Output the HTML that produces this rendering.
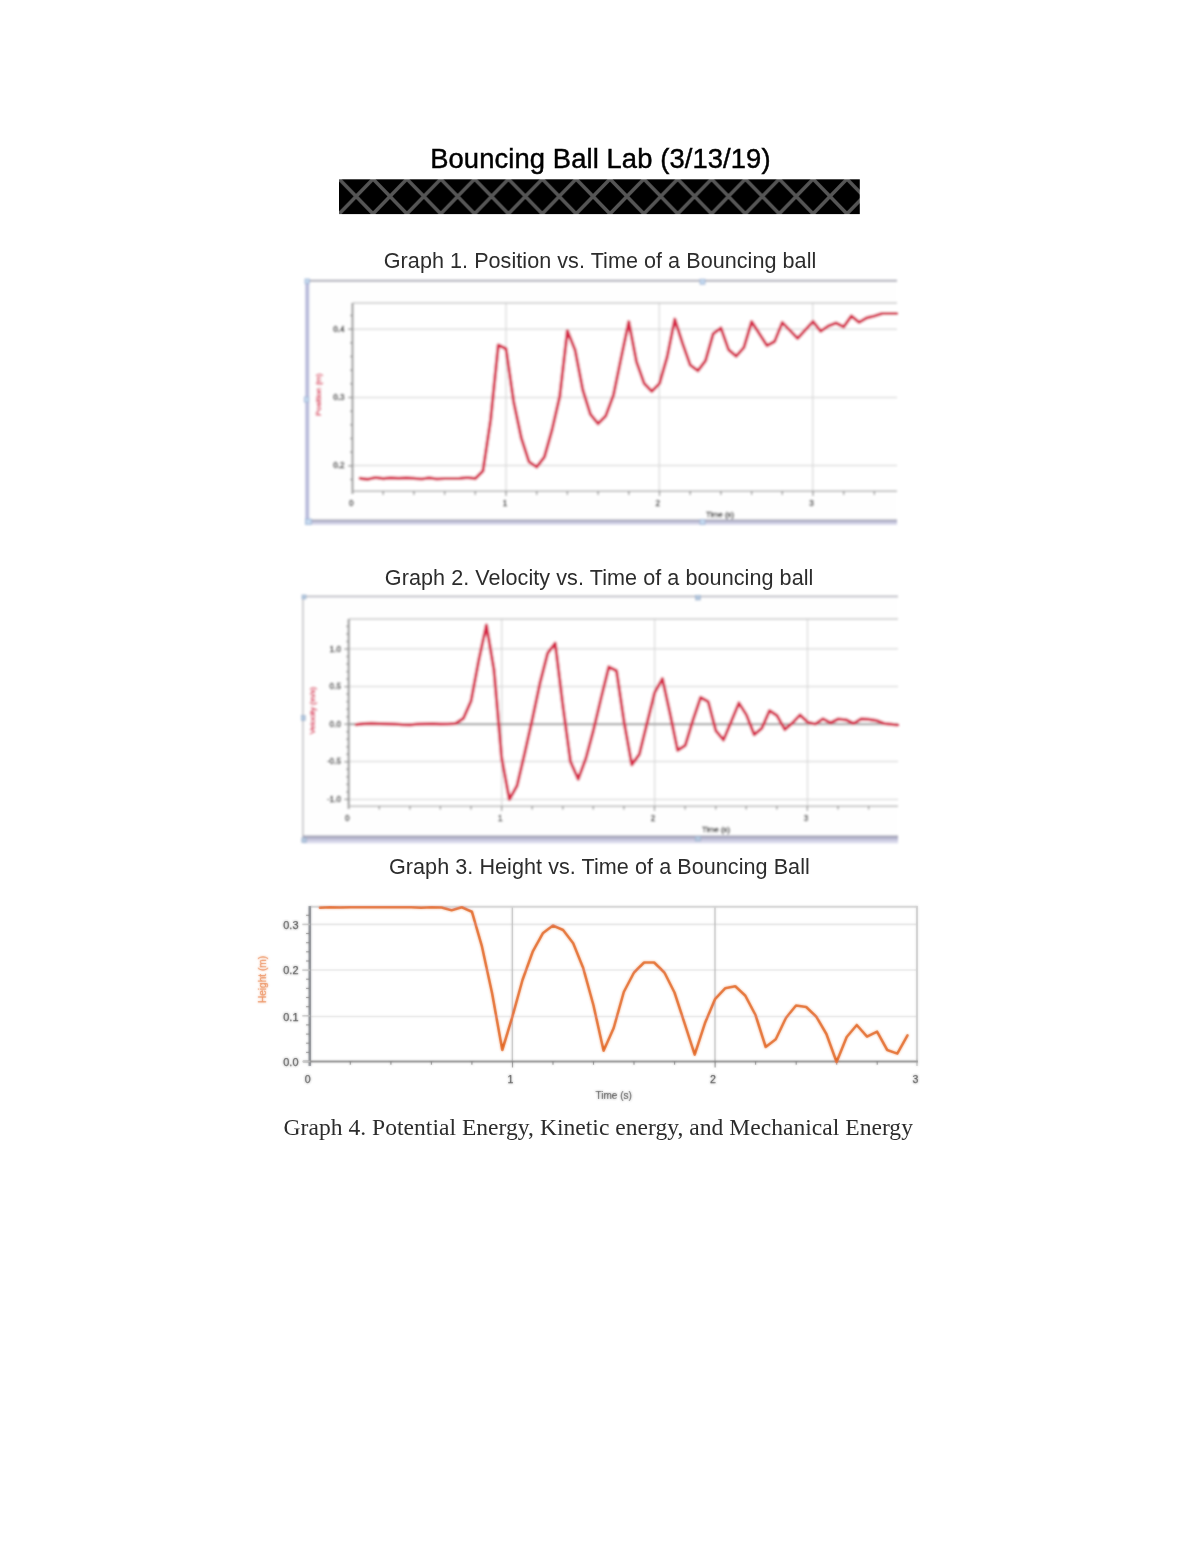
<!DOCTYPE html>
<html><head><meta charset="utf-8"><title>Bouncing Ball Lab</title>
<style>
html,body{margin:0;padding:0;background:#fff;}
body{width:1200px;height:1553px;position:relative;overflow:hidden;font-family:"Liberation Sans",sans-serif;color:#000;}
.t{position:absolute;white-space:nowrap;line-height:1;}
svg{position:absolute;left:0;top:0;}
svg text{font-family:"Liberation Sans",sans-serif;}
</style></head><body>
<div class="t" id="title" style="left:430.2px;top:144.6px;font-size:27.35px;letter-spacing:0.11px;-webkit-text-stroke:0.45px #000;">Bouncing Ball Lab (3/13/19)</div>
<div class="t" id="c1" style="left:383.8px;top:250px;font-size:21.57px;color:#2c2c2c;letter-spacing:0.05px;">Graph 1. Position vs. Time of a Bouncing ball</div>
<div class="t" id="c2" style="left:384.8px;top:566.8px;font-size:21.57px;color:#2c2c2c;letter-spacing:0.07px;">Graph 2. Velocity vs. Time of a bouncing ball</div>
<div class="t" id="c3" style="left:389px;top:855.8px;font-size:21.57px;color:#2c2c2c;letter-spacing:0.06px;">Graph 3. Height vs. Time of a Bouncing Ball</div>
<div class="t" id="c4" style="left:283.6px;top:1116px;font-size:23.53px;font-family:'Liberation Serif',serif;color:#2c2c2c;letter-spacing:0.035px;">Graph 4. Potential Energy, Kinetic energy, and Mechanical Energy</div>
<svg width="1200" height="1553" viewBox="0 0 1200 1553">
<defs>
<pattern id="dia" x="339.2" y="179" width="33.85" height="35" patternUnits="userSpaceOnUse">
<rect width="34" height="35" fill="#000"/>
<path d="M-1,-1.03 L34.85,35.88 M34.85,-1.03 L-1,35.88" stroke="#555" stroke-width="3.5" fill="none"/>
</pattern>
<filter id="b1" x="-5%" y="-5%" width="110%" height="110%"><feGaussianBlur stdDeviation="0.9"/></filter>
<filter id="b2" x="-5%" y="-5%" width="110%" height="110%"><feGaussianBlur stdDeviation="0.9" result="bl"/><feComposite in="bl" in2="SourceGraphic" operator="arithmetic" k1="0" k2="0.55" k3="0.45" k4="0"/></filter>
<linearGradient id="gb" x1="0" y1="0" x2="0" y2="1"><stop offset="0" stop-color="#9696aa"/><stop offset="0.5" stop-color="#c4c4dc"/><stop offset="1" stop-color="#e6e6f4"/></linearGradient>
</defs>
<rect x="339" y="179.3" width="520.8" height="34.8" fill="url(#dia)"/>
<g filter="url(#b1)">
<rect x="306" y="281" width="591" height="243" fill="#fefefe"/>
<rect x="305.3" y="281" width="4" height="243" fill="#babcdc"/>
<rect x="306" y="279.8" width="591" height="2" fill="#adadb8"/>
<rect x="306" y="519.5" width="591" height="5.5" fill="url(#gb)"/>
<rect x="352.5" y="303" width="545" height="188.3" fill="#fff"/>
<line x1="352.5" x2="897" y1="329.2" y2="329.2" stroke="#dedede" stroke-width="1.5"/>
<line x1="352.5" x2="897" y1="397.5" y2="397.5" stroke="#dedede" stroke-width="1.5"/>
<line x1="352.5" x2="897" y1="465.5" y2="465.5" stroke="#dedede" stroke-width="1.5"/>
<line x1="506" x2="506" y1="303" y2="491" stroke="#d8d8d8" stroke-width="1.2"/>
<line x1="659.3" x2="659.3" y1="303" y2="491" stroke="#d8d8d8" stroke-width="1.2"/>
<line x1="812.7" x2="812.7" y1="303" y2="491" stroke="#d8d8d8" stroke-width="1.2"/>
<line x1="352.5" x2="897" y1="303" y2="303" stroke="#c8c8c8" stroke-width="1.6"/>
<line x1="352.5" x2="352.5" y1="303" y2="494" stroke="#969696" stroke-width="2"/>
<line x1="352.5" x2="897" y1="491.3" y2="491.3" stroke="#b0b0b0" stroke-width="1.6"/>
<line x1="383.2" x2="383.2" y1="491" y2="495" stroke="#888" stroke-width="1.2"/>
<line x1="413.9" x2="413.9" y1="491" y2="495" stroke="#888" stroke-width="1.2"/>
<line x1="444.6" x2="444.6" y1="491" y2="495" stroke="#888" stroke-width="1.2"/>
<line x1="475.3" x2="475.3" y1="491" y2="495" stroke="#888" stroke-width="1.2"/>
<line x1="506.0" x2="506.0" y1="491" y2="496" stroke="#888" stroke-width="1.2"/>
<line x1="536.7" x2="536.7" y1="491" y2="495" stroke="#888" stroke-width="1.2"/>
<line x1="567.4" x2="567.4" y1="491" y2="495" stroke="#888" stroke-width="1.2"/>
<line x1="598.1" x2="598.1" y1="491" y2="495" stroke="#888" stroke-width="1.2"/>
<line x1="628.8" x2="628.8" y1="491" y2="495" stroke="#888" stroke-width="1.2"/>
<line x1="659.5" x2="659.5" y1="491" y2="496" stroke="#888" stroke-width="1.2"/>
<line x1="690.2" x2="690.2" y1="491" y2="495" stroke="#888" stroke-width="1.2"/>
<line x1="720.9" x2="720.9" y1="491" y2="495" stroke="#888" stroke-width="1.2"/>
<line x1="751.6" x2="751.6" y1="491" y2="495" stroke="#888" stroke-width="1.2"/>
<line x1="782.3" x2="782.3" y1="491" y2="495" stroke="#888" stroke-width="1.2"/>
<line x1="813.0" x2="813.0" y1="491" y2="496" stroke="#888" stroke-width="1.2"/>
<line x1="843.7" x2="843.7" y1="491" y2="495" stroke="#888" stroke-width="1.2"/>
<line x1="874.4" x2="874.4" y1="491" y2="495" stroke="#888" stroke-width="1.2"/>
<line x1="350.0" x2="352.5" y1="315.5" y2="315.5" stroke="#888" stroke-width="1.2"/>
<line x1="348.0" x2="352.5" y1="329.2" y2="329.2" stroke="#888" stroke-width="1.2"/>
<line x1="350.0" x2="352.5" y1="342.9" y2="342.9" stroke="#888" stroke-width="1.2"/>
<line x1="350.0" x2="352.5" y1="356.5" y2="356.5" stroke="#888" stroke-width="1.2"/>
<line x1="350.0" x2="352.5" y1="370.2" y2="370.2" stroke="#888" stroke-width="1.2"/>
<line x1="350.0" x2="352.5" y1="383.8" y2="383.8" stroke="#888" stroke-width="1.2"/>
<line x1="348.0" x2="352.5" y1="397.5" y2="397.5" stroke="#888" stroke-width="1.2"/>
<line x1="350.0" x2="352.5" y1="411.2" y2="411.2" stroke="#888" stroke-width="1.2"/>
<line x1="350.0" x2="352.5" y1="424.8" y2="424.8" stroke="#888" stroke-width="1.2"/>
<line x1="350.0" x2="352.5" y1="438.5" y2="438.5" stroke="#888" stroke-width="1.2"/>
<line x1="350.0" x2="352.5" y1="452.1" y2="452.1" stroke="#888" stroke-width="1.2"/>
<line x1="348.0" x2="352.5" y1="465.8" y2="465.8" stroke="#888" stroke-width="1.2"/>
<line x1="350.0" x2="352.5" y1="479.5" y2="479.5" stroke="#888" stroke-width="1.2"/>
<text x="344.6" y="332.09999999999997" font-size="8.2" text-anchor="end" fill="#2a2a2a" stroke="#2a2a2a" stroke-width="0.35">0.4</text>
<text x="344.6" y="400.4" font-size="8.2" text-anchor="end" fill="#2a2a2a" stroke="#2a2a2a" stroke-width="0.35">0.3</text>
<text x="344.6" y="468.4" font-size="8.2" text-anchor="end" fill="#2a2a2a" stroke="#2a2a2a" stroke-width="0.35">0.2</text>
<text x="351.3" y="506" font-size="8.2" text-anchor="middle" fill="#2a2a2a" stroke="#2a2a2a" stroke-width="0.35">0</text>
<text x="505" y="506" font-size="8.2" text-anchor="middle" fill="#2a2a2a" stroke="#2a2a2a" stroke-width="0.35">1</text>
<text x="657.8" y="506" font-size="8.2" text-anchor="middle" fill="#2a2a2a" stroke="#2a2a2a" stroke-width="0.35">2</text>
<text x="811.5" y="506" font-size="8.2" text-anchor="middle" fill="#2a2a2a" stroke="#2a2a2a" stroke-width="0.35">3</text>
<text x="720" y="516.5" font-size="7.7" text-anchor="middle" fill="#2a2a2a" stroke="#2a2a2a" stroke-width="0.3">Time (s)</text>
<text transform="translate(321,394.7) rotate(-90)" font-size="8" text-anchor="middle" fill="#d93455" stroke="#d93455" stroke-width="0.3">Position (m)</text>
<g fill="#c4d8ee" stroke="#9db4d4" stroke-width="0.8"><rect x="305" y="279" width="4.5" height="4.5"/><rect x="700" y="279.3" width="5" height="5"/><rect x="305.5" y="519" width="6" height="5.5"/><rect x="700" y="519.5" width="5" height="5"/><rect x="304.3" y="397" width="4.5" height="5"/></g>
<path d="M360.2,478.3 L367.9,479.3 L375.5,477.5 L383.2,478.7 L390.9,477.8 L398.6,478.3 L406.2,477.8 L413.9,478.3 L421.6,479.0 L429.2,477.8 L436.9,479.0 L444.6,478.5 L452.3,478.5 L459.9,478.3 L467.6,477.5 L475.3,478.7 L483.0,470.8 L490.6,420.0 L498.3,345.0 L506.0,348.7 L513.7,402.0 L521.4,438.3 L529.0,461.7 L536.7,467.0 L544.4,457.0 L552.0,430.0 L559.7,396.7 L567.4,330.8 L575.1,350.0 L582.8,390.0 L590.4,414.2 L598.1,423.7 L605.8,415.8 L613.5,395.0 L621.1,358.0 L628.8,321.7 L636.5,361.7 L644.1,383.3 L651.8,391.3 L659.5,383.5 L667.2,356.7 L674.8,319.2 L682.5,343.3 L690.2,365.0 L697.9,370.8 L705.5,360.8 L713.2,333.7 L720.9,328.0 L728.6,349.7 L736.2,356.3 L743.9,347.5 L751.6,321.7 L759.3,333.7 L767.0,345.7 L774.6,341.5 L782.3,322.5 L790.0,330.5 L797.6,338.4 L805.3,330.0 L813.0,321.5 L820.7,331.3 L828.3,326.0 L836.0,323.0 L843.7,326.9 L851.4,316.0 L859.0,322.3 L866.7,317.9 L874.4,316.0 L882.1,313.5 L889.8,313.5 L896.5,313.5" fill="none" stroke="#d6294a" stroke-width="3.2" stroke-linejoin="round" stroke-linecap="round"/>
</g>
<g filter="url(#b1)">
<rect x="303" y="596" width="595" height="246" fill="#fefefe"/>
<rect x="302.2" y="596" width="1.6" height="246" fill="#c4c4c8"/>
<rect x="303" y="595.7" width="595" height="1.6" fill="#b4b4bc"/>
<rect x="303" y="835.5" width="595" height="8" fill="url(#gb)"/>
<rect x="348.7" y="619" width="549.3" height="187" fill="#fff"/>
<line x1="348.7" x2="898" y1="648.7" y2="648.7" stroke="#dedede" stroke-width="1.5"/>
<line x1="348.7" x2="898" y1="686.5" y2="686.5" stroke="#dedede" stroke-width="1.5"/>
<line x1="348.7" x2="898" y1="761.4" y2="761.4" stroke="#dedede" stroke-width="1.5"/>
<line x1="348.7" x2="898" y1="799.4" y2="799.4" stroke="#dedede" stroke-width="1.5"/>
<line x1="501.7" x2="501.7" y1="619" y2="806" stroke="#d8d8d8" stroke-width="1.2"/>
<line x1="654.6" x2="654.6" y1="619" y2="806" stroke="#d8d8d8" stroke-width="1.2"/>
<line x1="807.5" x2="807.5" y1="619" y2="806" stroke="#d8d8d8" stroke-width="1.2"/>
<line x1="348.7" x2="898" y1="724.2" y2="724.2" stroke="#a8a8a8" stroke-width="2.2"/>
<line x1="348.7" x2="898" y1="619" y2="619" stroke="#c8c8c8" stroke-width="1.6"/>
<line x1="348.7" x2="348.7" y1="619" y2="809" stroke="#9c9c9c" stroke-width="2.2"/>
<line x1="348.7" x2="898" y1="806.3" y2="806.3" stroke="#b8b8b8" stroke-width="1.6"/>
<line x1="379.3" x2="379.3" y1="806" y2="809.5" stroke="#888" stroke-width="1.2"/>
<line x1="409.9" x2="409.9" y1="806" y2="809.5" stroke="#888" stroke-width="1.2"/>
<line x1="440.4" x2="440.4" y1="806" y2="809.5" stroke="#888" stroke-width="1.2"/>
<line x1="471.0" x2="471.0" y1="806" y2="809.5" stroke="#888" stroke-width="1.2"/>
<line x1="501.6" x2="501.6" y1="806" y2="811" stroke="#888" stroke-width="1.2"/>
<line x1="532.2" x2="532.2" y1="806" y2="809.5" stroke="#888" stroke-width="1.2"/>
<line x1="562.8" x2="562.8" y1="806" y2="809.5" stroke="#888" stroke-width="1.2"/>
<line x1="593.3" x2="593.3" y1="806" y2="809.5" stroke="#888" stroke-width="1.2"/>
<line x1="623.9" x2="623.9" y1="806" y2="809.5" stroke="#888" stroke-width="1.2"/>
<line x1="654.5" x2="654.5" y1="806" y2="811" stroke="#888" stroke-width="1.2"/>
<line x1="685.1" x2="685.1" y1="806" y2="809.5" stroke="#888" stroke-width="1.2"/>
<line x1="715.7" x2="715.7" y1="806" y2="809.5" stroke="#888" stroke-width="1.2"/>
<line x1="746.2" x2="746.2" y1="806" y2="809.5" stroke="#888" stroke-width="1.2"/>
<line x1="776.8" x2="776.8" y1="806" y2="809.5" stroke="#888" stroke-width="1.2"/>
<line x1="807.4" x2="807.4" y1="806" y2="811" stroke="#888" stroke-width="1.2"/>
<line x1="838.0" x2="838.0" y1="806" y2="809.5" stroke="#888" stroke-width="1.2"/>
<line x1="868.6" x2="868.6" y1="806" y2="809.5" stroke="#888" stroke-width="1.2"/>
<line x1="344.2" x2="348.7" y1="799.4" y2="799.4" stroke="#888" stroke-width="1.2"/>
<line x1="346.2" x2="348.7" y1="791.9" y2="791.9" stroke="#888" stroke-width="1.2"/>
<line x1="346.2" x2="348.7" y1="784.4" y2="784.4" stroke="#888" stroke-width="1.2"/>
<line x1="346.2" x2="348.7" y1="776.8" y2="776.8" stroke="#888" stroke-width="1.2"/>
<line x1="346.2" x2="348.7" y1="769.3" y2="769.3" stroke="#888" stroke-width="1.2"/>
<line x1="344.2" x2="348.7" y1="761.8" y2="761.8" stroke="#888" stroke-width="1.2"/>
<line x1="346.2" x2="348.7" y1="754.3" y2="754.3" stroke="#888" stroke-width="1.2"/>
<line x1="346.2" x2="348.7" y1="746.8" y2="746.8" stroke="#888" stroke-width="1.2"/>
<line x1="346.2" x2="348.7" y1="739.2" y2="739.2" stroke="#888" stroke-width="1.2"/>
<line x1="346.2" x2="348.7" y1="731.7" y2="731.7" stroke="#888" stroke-width="1.2"/>
<line x1="344.2" x2="348.7" y1="724.2" y2="724.2" stroke="#888" stroke-width="1.2"/>
<line x1="346.2" x2="348.7" y1="716.7" y2="716.7" stroke="#888" stroke-width="1.2"/>
<line x1="346.2" x2="348.7" y1="709.2" y2="709.2" stroke="#888" stroke-width="1.2"/>
<line x1="346.2" x2="348.7" y1="701.6" y2="701.6" stroke="#888" stroke-width="1.2"/>
<line x1="346.2" x2="348.7" y1="694.1" y2="694.1" stroke="#888" stroke-width="1.2"/>
<line x1="344.2" x2="348.7" y1="686.6" y2="686.6" stroke="#888" stroke-width="1.2"/>
<line x1="346.2" x2="348.7" y1="679.1" y2="679.1" stroke="#888" stroke-width="1.2"/>
<line x1="346.2" x2="348.7" y1="671.6" y2="671.6" stroke="#888" stroke-width="1.2"/>
<line x1="346.2" x2="348.7" y1="664.0" y2="664.0" stroke="#888" stroke-width="1.2"/>
<line x1="346.2" x2="348.7" y1="656.5" y2="656.5" stroke="#888" stroke-width="1.2"/>
<line x1="344.2" x2="348.7" y1="649.0" y2="649.0" stroke="#888" stroke-width="1.2"/>
<line x1="346.2" x2="348.7" y1="641.5" y2="641.5" stroke="#888" stroke-width="1.2"/>
<line x1="346.2" x2="348.7" y1="634.0" y2="634.0" stroke="#888" stroke-width="1.2"/>
<line x1="346.2" x2="348.7" y1="626.4" y2="626.4" stroke="#888" stroke-width="1.2"/>
<text x="341" y="651.6" font-size="8.2" text-anchor="end" fill="#2a2a2a" stroke="#2a2a2a" stroke-width="0.35">1.0</text>
<text x="341" y="689.4" font-size="8.2" text-anchor="end" fill="#2a2a2a" stroke="#2a2a2a" stroke-width="0.35">0.5</text>
<text x="341" y="727.1" font-size="8.2" text-anchor="end" fill="#2a2a2a" stroke="#2a2a2a" stroke-width="0.35">0.0</text>
<text x="341" y="764.3" font-size="8.2" text-anchor="end" fill="#2a2a2a" stroke="#2a2a2a" stroke-width="0.35">-0.5</text>
<text x="341" y="802.3" font-size="8.2" text-anchor="end" fill="#2a2a2a" stroke="#2a2a2a" stroke-width="0.35">-1.0</text>
<text x="347.3" y="821" font-size="8.2" text-anchor="middle" fill="#2a2a2a" stroke="#2a2a2a" stroke-width="0.35">0</text>
<text x="500.3" y="821" font-size="8.2" text-anchor="middle" fill="#2a2a2a" stroke="#2a2a2a" stroke-width="0.35">1</text>
<text x="653" y="821" font-size="8.2" text-anchor="middle" fill="#2a2a2a" stroke="#2a2a2a" stroke-width="0.35">2</text>
<text x="806" y="821" font-size="8.2" text-anchor="middle" fill="#2a2a2a" stroke="#2a2a2a" stroke-width="0.35">3</text>
<text x="716" y="832" font-size="7.7" text-anchor="middle" fill="#2a2a2a" stroke="#2a2a2a" stroke-width="0.3">Time (s)</text>
<text transform="translate(315.3,710.6) rotate(-90)" font-size="7.9" text-anchor="middle" fill="#d93455" stroke="#d93455" stroke-width="0.3">Velocity (m/s)</text>
<g fill="#b4c8de" stroke="#98aecb" stroke-width="0.7"><rect x="302" y="595" width="4" height="4"/><rect x="695.5" y="595.5" width="5" height="4.5"/><rect x="301.8" y="838" width="4.5" height="4.5"/><rect x="695.5" y="836.5" width="5" height="4.5"/><rect x="301.3" y="715.5" width="4" height="5"/></g>
<path d="M356.3,724.7 L364.0,723.6 L371.6,723.4 L379.3,723.6 L386.9,723.8 L394.6,724.2 L402.2,724.6 L409.9,724.8 L417.6,724.2 L425.2,723.8 L432.9,723.6 L440.5,724.2 L448.1,724.0 L455.8,723.3 L463.4,718.3 L471.1,700.8 L478.8,660.0 L486.4,625.0 L494.0,670.0 L501.7,758.3 L509.4,799.5 L517.0,785.8 L524.6,753.7 L532.3,719.3 L540.0,683.0 L547.6,653.3 L555.2,643.3 L562.9,705.7 L570.5,761.7 L578.2,779.2 L585.9,758.3 L593.5,730.0 L601.1,698.0 L608.8,667.0 L616.5,670.8 L624.1,722.0 L631.8,764.7 L639.4,754.2 L647.0,723.3 L654.7,692.5 L662.4,678.7 L670.0,713.3 L677.6,750.3 L685.3,745.3 L693.0,720.0 L700.6,697.5 L708.2,701.7 L715.9,730.8 L723.5,740.0 L731.2,721.7 L738.9,703.0 L746.5,715.0 L754.2,734.7 L761.8,728.3 L769.5,710.7 L777.1,715.7 L784.8,729.5 L792.4,723.0 L800.0,715.0 L807.7,722.2 L815.4,724.0 L823.0,718.8 L830.7,722.8 L838.3,719.0 L846.0,719.8 L853.6,723.5 L861.2,718.8 L868.9,719.4 L876.5,720.6 L884.2,723.5 L891.8,724.4 L897.5,725.0" fill="none" stroke="#d6294a" stroke-width="3.2" stroke-linejoin="round" stroke-linecap="round"/>
</g>
<g filter="url(#b2)">
<line x1="309.8" x2="917" y1="924.4" y2="924.4" stroke="#e4e4e4" stroke-width="1.6"/>
<line x1="309.8" x2="917" y1="970" y2="970" stroke="#e4e4e4" stroke-width="1.6"/>
<line x1="309.8" x2="917" y1="1016.5" y2="1016.5" stroke="#e4e4e4" stroke-width="1.6"/>
<line x1="512.3" x2="512.3" y1="907" y2="1061" stroke="#b0b0b0" stroke-width="1.2"/>
<line x1="715" x2="715" y1="907" y2="1061" stroke="#b0b0b0" stroke-width="1.2"/>
<line x1="309.8" x2="917.5" y1="906.7" y2="906.7" stroke="#cfcfcf" stroke-width="2"/>
<line x1="917" x2="917" y1="906" y2="1066" stroke="#c8c8c8" stroke-width="2"/>
<line x1="309.8" x2="309.8" y1="906" y2="1066" stroke="#80848a" stroke-width="2.6"/>
<line x1="303" x2="918" y1="1061.5" y2="1061.5" stroke="#8a8a8a" stroke-width="2"/>
<line x1="350.3" x2="350.3" y1="1061" y2="1064.8" stroke="#777" stroke-width="1.1"/>
<line x1="390.9" x2="390.9" y1="1061" y2="1064.8" stroke="#777" stroke-width="1.1"/>
<line x1="431.4" x2="431.4" y1="1061" y2="1064.8" stroke="#777" stroke-width="1.1"/>
<line x1="471.9" x2="471.9" y1="1061" y2="1064.8" stroke="#777" stroke-width="1.1"/>
<line x1="512.5" x2="512.5" y1="1061" y2="1067.5" stroke="#777" stroke-width="1.1"/>
<line x1="553.0" x2="553.0" y1="1061" y2="1064.8" stroke="#777" stroke-width="1.1"/>
<line x1="593.5" x2="593.5" y1="1061" y2="1064.8" stroke="#777" stroke-width="1.1"/>
<line x1="634.0" x2="634.0" y1="1061" y2="1064.8" stroke="#777" stroke-width="1.1"/>
<line x1="674.6" x2="674.6" y1="1061" y2="1064.8" stroke="#777" stroke-width="1.1"/>
<line x1="715.1" x2="715.1" y1="1061" y2="1067.5" stroke="#777" stroke-width="1.1"/>
<line x1="755.6" x2="755.6" y1="1061" y2="1064.8" stroke="#777" stroke-width="1.1"/>
<line x1="796.2" x2="796.2" y1="1061" y2="1064.8" stroke="#777" stroke-width="1.1"/>
<line x1="836.7" x2="836.7" y1="1061" y2="1064.8" stroke="#777" stroke-width="1.1"/>
<line x1="877.2" x2="877.2" y1="1061" y2="1064.8" stroke="#777" stroke-width="1.1"/>
<line x1="302.3" x2="309.8" y1="1061.5" y2="1061.5" stroke="#c0c0c0" stroke-width="1.6"/>
<line x1="306.0" x2="309.8" y1="1052.4" y2="1052.4" stroke="#808080" stroke-width="1.1"/>
<line x1="306.0" x2="309.8" y1="1043.2" y2="1043.2" stroke="#808080" stroke-width="1.1"/>
<line x1="306.0" x2="309.8" y1="1034.1" y2="1034.1" stroke="#808080" stroke-width="1.1"/>
<line x1="306.0" x2="309.8" y1="1024.9" y2="1024.9" stroke="#808080" stroke-width="1.1"/>
<line x1="302.3" x2="309.8" y1="1015.8" y2="1015.8" stroke="#c0c0c0" stroke-width="1.6"/>
<line x1="306.0" x2="309.8" y1="1006.7" y2="1006.7" stroke="#808080" stroke-width="1.1"/>
<line x1="306.0" x2="309.8" y1="997.5" y2="997.5" stroke="#808080" stroke-width="1.1"/>
<line x1="306.0" x2="309.8" y1="988.4" y2="988.4" stroke="#808080" stroke-width="1.1"/>
<line x1="306.0" x2="309.8" y1="979.2" y2="979.2" stroke="#808080" stroke-width="1.1"/>
<line x1="302.3" x2="309.8" y1="970.1" y2="970.1" stroke="#c0c0c0" stroke-width="1.6"/>
<line x1="306.0" x2="309.8" y1="961.0" y2="961.0" stroke="#808080" stroke-width="1.1"/>
<line x1="306.0" x2="309.8" y1="951.8" y2="951.8" stroke="#808080" stroke-width="1.1"/>
<line x1="306.0" x2="309.8" y1="942.7" y2="942.7" stroke="#808080" stroke-width="1.1"/>
<line x1="306.0" x2="309.8" y1="933.5" y2="933.5" stroke="#808080" stroke-width="1.1"/>
<line x1="302.3" x2="309.8" y1="924.4" y2="924.4" stroke="#c0c0c0" stroke-width="1.6"/>
<line x1="306.0" x2="309.8" y1="915.3" y2="915.3" stroke="#808080" stroke-width="1.1"/>
<text x="298.5" y="928.8" font-size="10.4" text-anchor="end" textLength="15.2" lengthAdjust="spacingAndGlyphs" fill="#333" stroke="#333" stroke-width="0.25">0.3</text>
<text x="298.5" y="974.4" font-size="10.4" text-anchor="end" textLength="15.2" lengthAdjust="spacingAndGlyphs" fill="#333" stroke="#333" stroke-width="0.25">0.2</text>
<text x="298.5" y="1020.9" font-size="10.4" text-anchor="end" textLength="15.2" lengthAdjust="spacingAndGlyphs" fill="#333" stroke="#333" stroke-width="0.25">0.1</text>
<text x="298.5" y="1065.9" font-size="10.4" text-anchor="end" textLength="15.2" lengthAdjust="spacingAndGlyphs" fill="#333" stroke="#333" stroke-width="0.25">0.0</text>
<text x="307.7" y="1082.8" font-size="10.6" text-anchor="middle" fill="#333" stroke="#333" stroke-width="0.25">0</text>
<text x="510.5" y="1082.8" font-size="10.6" text-anchor="middle" fill="#333" stroke="#333" stroke-width="0.25">1</text>
<text x="713" y="1082.8" font-size="10.6" text-anchor="middle" fill="#333" stroke="#333" stroke-width="0.25">2</text>
<text x="915.5" y="1082.8" font-size="10.6" text-anchor="middle" fill="#333" stroke="#333" stroke-width="0.25">3</text>
<text x="613.7" y="1099.3" font-size="10" text-anchor="middle" fill="#3c3c3c" stroke="#3c3c3c" stroke-width="0.15">Time (s)</text>
<text transform="translate(266.4,979.5) rotate(-90)" font-size="10.1" text-anchor="middle" fill="#ea8048" stroke="#ea8048" stroke-width="0.3">Height (m)</text>
<path d="M319.9,907.7 L330.1,907.3 L340.2,907.5 L350.3,907.3 L360.5,907.3 L370.6,907.2 L380.7,907.2 L390.8,907.2 L401.0,907.3 L411.1,907.3 L421.2,907.8 L431.4,907.3 L441.5,907.5 L451.6,910.3 L461.8,907.2 L471.9,911.7 L482.0,946.7 L492.1,993.3 L502.3,1050.0 L512.4,1016.7 L522.5,980.0 L532.7,951.7 L542.8,933.3 L552.9,925.5 L563.1,930.0 L573.2,943.3 L583.3,968.3 L593.4,1005.0 L603.6,1050.8 L613.7,1028.0 L623.8,992.0 L634.0,972.5 L644.1,962.5 L654.2,962.5 L664.4,972.5 L674.5,992.5 L684.6,1023.3 L694.7,1054.7 L704.9,1023.3 L715.0,999.2 L725.1,988.3 L735.3,986.3 L745.4,995.8 L755.5,1015.0 L765.7,1047.0 L775.8,1039.2 L785.9,1018.0 L796.0,1005.5 L806.2,1007.0 L816.3,1016.7 L826.4,1034.0 L836.6,1062.0 L846.7,1037.0 L856.8,1025.0 L867.0,1036.7 L877.1,1031.6 L887.2,1050.0 L897.3,1053.6 L907.5,1035.3" fill="none" stroke="#e2631f" stroke-width="2.6" stroke-linejoin="round" stroke-linecap="round"/>
</g>
</svg>
</body></html>
